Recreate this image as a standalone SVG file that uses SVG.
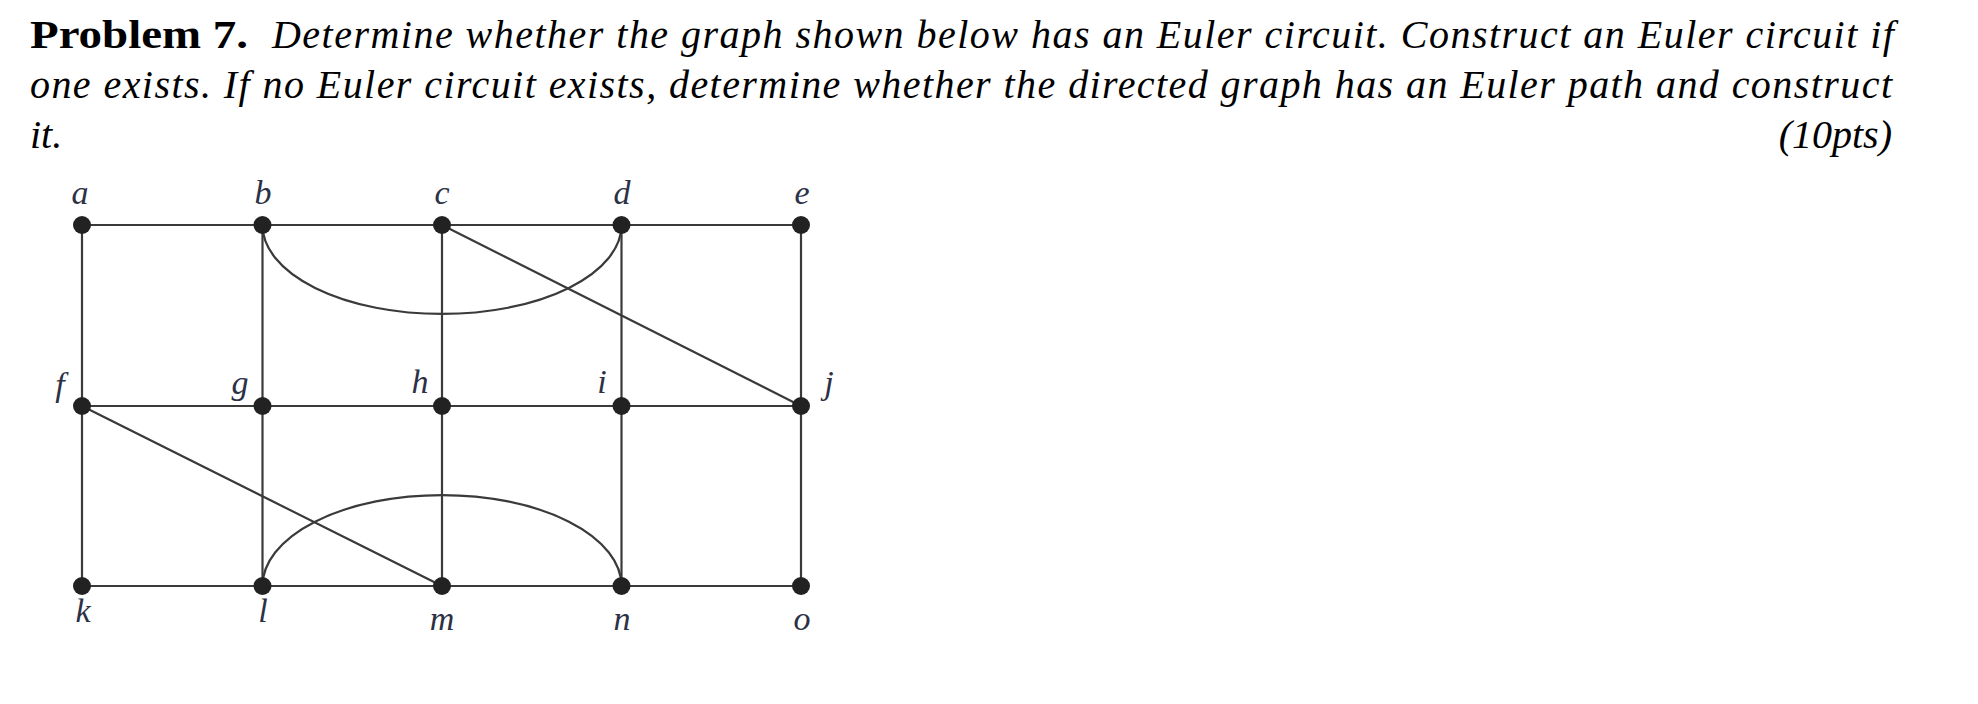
<svg xmlns="http://www.w3.org/2000/svg" width="1978" height="704" viewBox="0 0 1978 704">
<style>
.t{font-family:"Liberation Serif","DejaVu Serif",serif;font-size:40px;fill:#000}
.it{font-style:italic}
.b{font-weight:bold}
.e{stroke:#3a3a3a;stroke-width:2.2;fill:none}
.dot{fill:#222}
.lb{font-family:"Liberation Serif","DejaVu Serif",serif;font-style:italic;font-size:34px;fill:#2c3145;text-anchor:middle}
</style>
<rect width="1978" height="704" fill="#fff"/>
<g id="title">
<text class="t b" x="30" y="48" textLength="218" lengthAdjust="spacingAndGlyphs">Problem 7.</text>
<text class="t it" x="272" y="48" textLength="1622" lengthAdjust="spacing">Determine whether the graph shown below has an Euler circuit. Construct an Euler circuit if</text>
<text class="t it" x="30" y="98" textLength="1862" lengthAdjust="spacing">one exists. If no Euler circuit exists, determine whether the directed graph has an Euler path and construct</text>
<text class="t it" x="30" y="148">it.</text>
<text class="t it" x="1892" y="148" text-anchor="end">(10pts)</text>
</g>
<g id="connectors">
<line class="e" x1="82" y1="225" x2="801" y2="225"/>
<line class="e" x1="82" y1="406" x2="801" y2="406"/>
<line class="e" x1="82" y1="586" x2="801" y2="586"/>
<line class="e" x1="82" y1="225" x2="82" y2="586"/>
<line class="e" x1="262.5" y1="225" x2="262.5" y2="586"/>
<line class="e" x1="442" y1="225" x2="442" y2="586"/>
<line class="e" x1="621.5" y1="225" x2="621.5" y2="586"/>
<line class="e" x1="801" y1="225" x2="801" y2="586"/>
<line class="e" x1="442" y1="225" x2="801" y2="406"/>
<line class="e" x1="82" y1="406" x2="442" y2="586"/>
<path class="e" d="M262.5,225 A179.5,89 0 0 0 621.5,225"/>
<path class="e" d="M262.5,586 A179.5,91 0 0 1 621.5,586"/>
</g>
<g id="node-a"><circle class="dot" cx="82" cy="225" r="9"/><text class="lb" x="80" y="204">a</text></g>
<g id="node-b"><circle class="dot" cx="262.5" cy="225" r="9"/><text class="lb" x="263" y="204">b</text></g>
<g id="node-c"><circle class="dot" cx="442" cy="225" r="9"/><text class="lb" x="442" y="204">c</text></g>
<g id="node-d"><circle class="dot" cx="621.5" cy="225" r="9"/><text class="lb" x="622" y="204">d</text></g>
<g id="node-e"><circle class="dot" cx="801" cy="225" r="9"/><text class="lb" x="802" y="204">e</text></g>
<g id="node-f"><circle class="dot" cx="82" cy="406" r="9"/><text class="lb" x="60" y="396">f</text></g>
<g id="node-g"><circle class="dot" cx="262.5" cy="406" r="9"/><text class="lb" x="240" y="394">g</text></g>
<g id="node-h"><circle class="dot" cx="442" cy="406" r="9"/><text class="lb" x="420" y="393">h</text></g>
<g id="node-i"><circle class="dot" cx="621.5" cy="406" r="9"/><text class="lb" x="602" y="393">i</text></g>
<g id="node-j"><circle class="dot" cx="801" cy="406" r="9"/><text class="lb" x="829" y="394">j</text></g>
<g id="node-k"><circle class="dot" cx="82" cy="586" r="9"/><text class="lb" x="83" y="622">k</text></g>
<g id="node-l"><circle class="dot" cx="262.5" cy="586" r="9"/><text class="lb" x="263" y="622">l</text></g>
<g id="node-m"><circle class="dot" cx="442" cy="586" r="9"/><text class="lb" x="442" y="630">m</text></g>
<g id="node-n"><circle class="dot" cx="621.5" cy="586" r="9"/><text class="lb" x="622" y="630">n</text></g>
<g id="node-o"><circle class="dot" cx="801" cy="586" r="9"/><text class="lb" x="802" y="630">o</text></g>
</svg>
